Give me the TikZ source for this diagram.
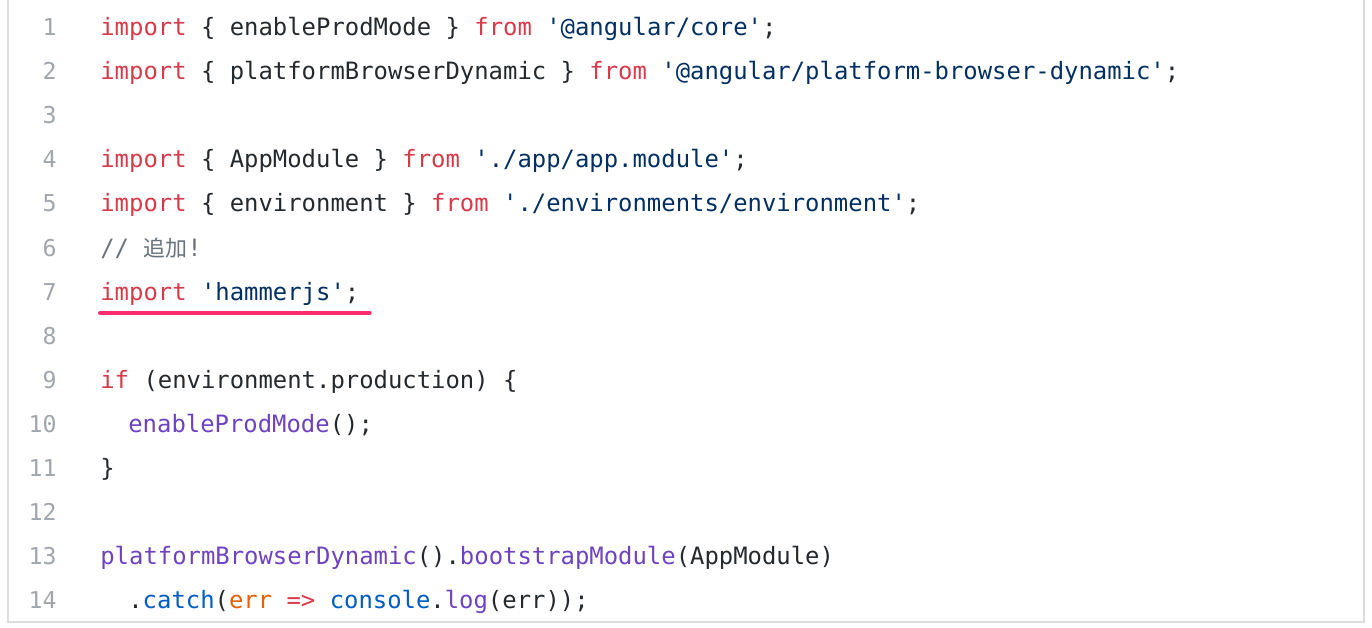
\documentclass[tikz,border=0pt]{standalone}
\usepackage{fontspec}
\setmonofont{DejaVu Sans Mono}
\newfontfamily\cjk{Noto Sans CJK JP}
\usetikzlibrary{positioning}
\definecolor{kwred}{HTML}{D73A49}
\definecolor{strblue}{HTML}{032F62}
\definecolor{fnpurple}{HTML}{6F42C1}
\definecolor{varorange}{HTML}{E36209}
\definecolor{constblue}{HTML}{005CC5}
\definecolor{cmtgray}{HTML}{6A737D}
\definecolor{numgray}{HTML}{A0A6AD}
\definecolor{plain}{HTML}{24292E}
\definecolor{framegray}{HTML}{DDDDDD}
\definecolor{markpink}{HTML}{FF2D6E}
\newcommand{\codekw}[1]{\textcolor{kwred}{#1}}
\newcommand{\codestr}[1]{\textcolor{strblue}{#1}}
\newcommand{\codefn}[1]{\textcolor{fnpurple}{#1}}
\tikzset{
  codeline/.style={anchor=base west, inner sep=0pt, text=plain, font=\ttfamily\fontsize{13.6}{16}\selectfont},
  lineno/.style={anchor=base east, inner sep=0pt, text=numgray, font=\ttfamily\fontsize{13.2}{16}\selectfont},
  hl/.style={draw=markpink, line width=0.08cm, line cap=round}
}
\begin{document}
\begin{tikzpicture}[x=0.02cm, y=-0.02cm]
  \useasboundingbox (0,0) rectangle (1372,628);
  \draw[framegray, line width=0.03cm] (8,-2) rectangle (1364,622);

  % line numbers
  \foreach \i in {1,...,14}
    \node (n\i) [lineno] at (57, {36+(\i-1)*44}) {\i};

  % the code
  \node (l1) [codeline] at (100,36) {\codekw{import} \{ enableProdMode \} \codekw{from} \codestr{'@angular/core'};};
  \node (l2) [codeline] at (100,80) {\codekw{import} \{ platformBrowserDynamic \} \codekw{from} \codestr{'@angular/platform-browser-dynamic'};};
  \node (l4) [codeline] at (100,168) {\codekw{import} \{ AppModule \} \codekw{from} \codestr{'./app/app.module'};};
  \node (l5) [codeline] at (100,212) {\codekw{import} \{ environment \} \codekw{from} \codestr{'./environments/environment'};};
  \node (l6) [codeline, text=cmtgray] at (100,256) {// {\cjk\fontsize{12.5}{16}\selectfont 追加}!};
  \node (l7) [codeline] at (100,300) {\codekw{import} \codestr{'hammerjs'};};
  \node (l9) [codeline] at (100,388) {\codekw{if} (environment.production) \{};
  \node (l10) [codeline] at (128,432) {\codefn{enableProdMode}();};
  \node (l11) [codeline] at (100,476) {\}};
  \node (l13) [codeline] at (100,564) {\codefn{platformBrowserDynamic}().\codefn{bootstrapModule}(AppModule)};
  \node (l14) [codeline] at (128,608) {.\textcolor{constblue}{catch}(\textcolor{varorange}{err} \codekw{=>} \textcolor{constblue}{console}.\codefn{log}(err));};

  % underline
  \draw[hl] ([yshift=-0.26cm]l7.base west) -- ([yshift=-0.26cm, xshift=0.2cm]l7.base east);
\end{tikzpicture}
\end{document}
